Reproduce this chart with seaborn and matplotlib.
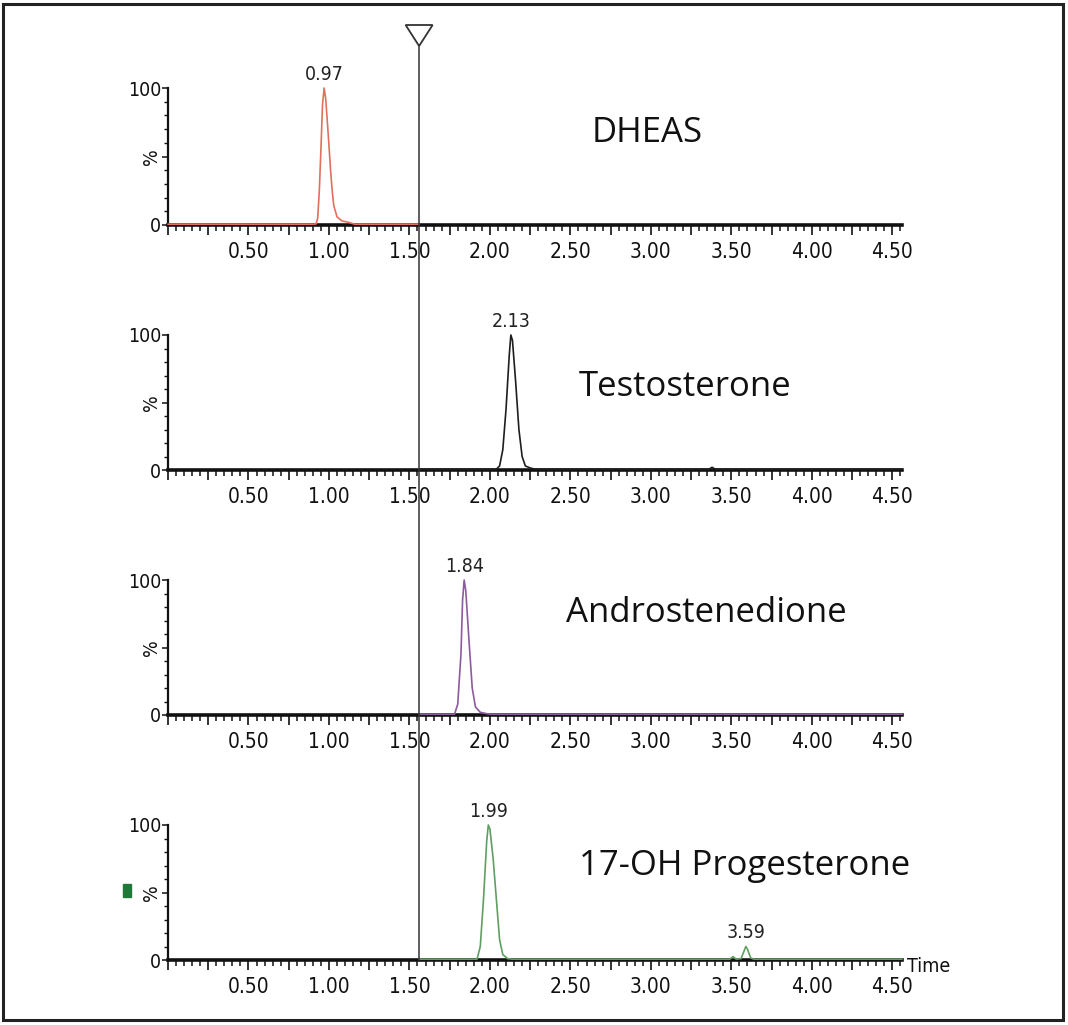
import numpy as np
import seaborn as sns
import matplotlib.pyplot as plt
from matplotlib.ticker import MultipleLocator, FixedLocator, FuncFormatter
from matplotlib.patches import Polygon, Rectangle
from matplotlib.lines import Line2D

# chromatogram points (time in min, % of base peak)
dheas_t = [0.00, 0.90, 0.92, 0.93, 0.94, 0.95, 0.96, 0.97, 0.98, 0.99, 1.00, 1.01, 1.02, 1.03, 1.05, 1.08, 1.12, 1.16, 1.56]
dheas_i = [0.6, 0.6, 0.8, 5, 25, 55, 88, 100, 92, 75, 58, 40, 25, 14, 6, 3, 2, 0.6, 0.6]

testo_t = [1.56, 2.04, 2.06, 2.08, 2.10, 2.12, 2.13, 2.14, 2.16, 2.18, 2.20, 2.22, 2.25, 2.28, 3.36, 3.38, 3.40, 4.56]
testo_i = [0.6, 0.6, 3, 15, 45, 85, 100, 96, 65, 30, 10, 3, 1.5, 0.6, 0.6, 2, 0.6, 0.6]

andro_t = [1.56, 1.78, 1.80, 1.82, 1.83, 1.84, 1.85, 1.87, 1.89, 1.91, 1.94, 1.98, 2.00, 4.56]
andro_i = [0.6, 0.6, 8, 45, 85, 100, 92, 55, 20, 6, 2, 1, 0.6, 0.6]

ohp_t = [1.56, 1.92, 1.94, 1.96, 1.98, 1.99, 2.00, 2.02, 2.04, 2.06, 2.08, 2.11, 2.14, 3.49, 3.51, 3.53, 3.56, 3.58, 3.59, 3.60, 3.62, 3.64, 4.56]
ohp_i = [0.6, 0.6, 10, 45, 88, 100, 97, 75, 45, 15, 4, 1, 0.6, 0.6, 2.5, 0.6, 1, 7, 10, 8, 1.5, 0.6, 0.6]

names = ["DHEAS", "Testosterone", "Androstenedione", "17-OH Progesterone"]
colors = ["#e2705e", "#1e1e1e", "#8c5b9c", "#5f9e62"]
peak_times = [[0.97], [2.13], [1.84], [1.99, 3.59]]
peak_heights = [[100], [100], [100], [100, 10]]
marker_time = 1.56

traces = [(dheas_t, dheas_i), (testo_t, testo_i), (andro_t, andro_i), (ohp_t, ohp_i)]

sns.set_style("ticks")
plt.rcParams["font.family"] = ["DejaVu Sans"]
plt.rcParams["font.stretch"] = "condensed"

W, H = 1068, 1025
fig = plt.figure(figsize=(W / 100, H / 100), dpi=100)

# panel placement in pixels (top, bottom) and x extent
panels_px = [(88, 225), (335, 470), (580, 715), (825, 960)]
x0_px, x1_px = 168, 902
xmax = 4.56
name_pos = [(647, 142), (685, 396), (706, 622), (745, 875)]

axes = []
for k, (top, bot) in enumerate(panels_px):
    ax = fig.add_axes([x0_px / W, 1 - bot / H, (x1_px - x0_px) / W, (bot - top) / H])
    t, v = traces[k]
    sns.lineplot(x=t, y=v, ax=ax, color=colors[k], lw=1.2, sort=False,
                 estimator=None, clip_on=False, zorder=5)
    ax.set_xlim(0, xmax)
    ax.set_ylim(0, 100)
    ax.patch.set_alpha(0)
    for s in ["top", "right"]:
        ax.spines[s].set_visible(False)
    ax.spines["bottom"].set_linewidth(2.6)
    ax.spines["left"].set_linewidth(1.6)
    ax.spines["bottom"].set_color("#111")
    ax.spines["left"].set_color("#111")

    ax.xaxis.set_major_locator(MultipleLocator(0.25))
    ax.xaxis.set_minor_locator(MultipleLocator(0.05))
    ax.xaxis.set_major_formatter(FuncFormatter(
        lambda x, p: f"{x:.2f}" if x > 0.01 and abs(x / 0.5 - round(x / 0.5)) < 1e-6 else ""))
    ax.yaxis.set_major_locator(FixedLocator([0, 50, 100]))
    ax.yaxis.set_minor_locator(MultipleLocator(10))
    ax.yaxis.set_major_formatter(FuncFormatter(lambda y, p: "" if y == 50 else f"{y:.0f}"))
    ax.tick_params(axis="x", which="major", length=7, width=1.2, labelsize=15, pad=5, colors="#111")
    ax.tick_params(axis="x", which="minor", length=4, width=1.1, colors="#111")
    ax.tick_params(axis="y", which="major", length=4, width=1.1, labelsize=14, pad=1, colors="#111")
    ax.tick_params(axis="y", which="minor", length=3, width=1.0, colors="#111")
    ax.set_xlabel("")
    ax.set_ylabel("")
    ax.text(-0.022, 0.5, "%", transform=ax.transAxes, rotation=90,
            ha="center", va="center", fontsize=14, color="#111")

    for pt, ph in zip(peak_times[k], peak_heights[k]):
        ax.text(pt, ph + 3, f"{pt:.2f}", ha="center", va="bottom", fontsize=14, color="#222")

    nx, ny = name_pos[k]
    fig.text(nx / W, 1 - ny / H, names[k], ha="center", va="baseline",
             fontsize=25, family=["Open Sans", "DejaVu Sans"], fontstretch="normal", color="#111")
    axes.append(ax)

# retention-time marker: vertical line with open triangle on top
mx = x0_px + marker_time / xmax * (x1_px - x0_px)
fig.add_artist(Line2D([mx / W, mx / W], [1 - 46 / H, 1 - 960 / H],
                      transform=fig.transFigure, color="#333", lw=1.1, zorder=10))
tri_px = [(mx - 13.5, 25), (mx + 13.5, 25), (mx, 46)]
fig.add_artist(Polygon([(x / W, 1 - y / H) for x, y in tri_px],
                       closed=True, fill=False, ec="#333", lw=1.3,
                       transform=fig.transFigure))

# small green legend square and "Time" axis tag
fig.add_artist(Rectangle((123 / W, 1 - 897 / H), 8 / W, 13 / H,
                         transform=fig.transFigure, color="#1f7a3a"))
fig.text(907 / W, 1 - 966 / H, "Time", ha="left", va="center", fontsize=14, color="#111")

# frame around the figure
fig.add_artist(Rectangle((3 / W, 1 - 1020 / H), 1060 / W, 1016 / H,
                         transform=fig.transFigure, fill=False, ec="#222", lw=2.2))

fig.savefig("out.png", dpi=100)
